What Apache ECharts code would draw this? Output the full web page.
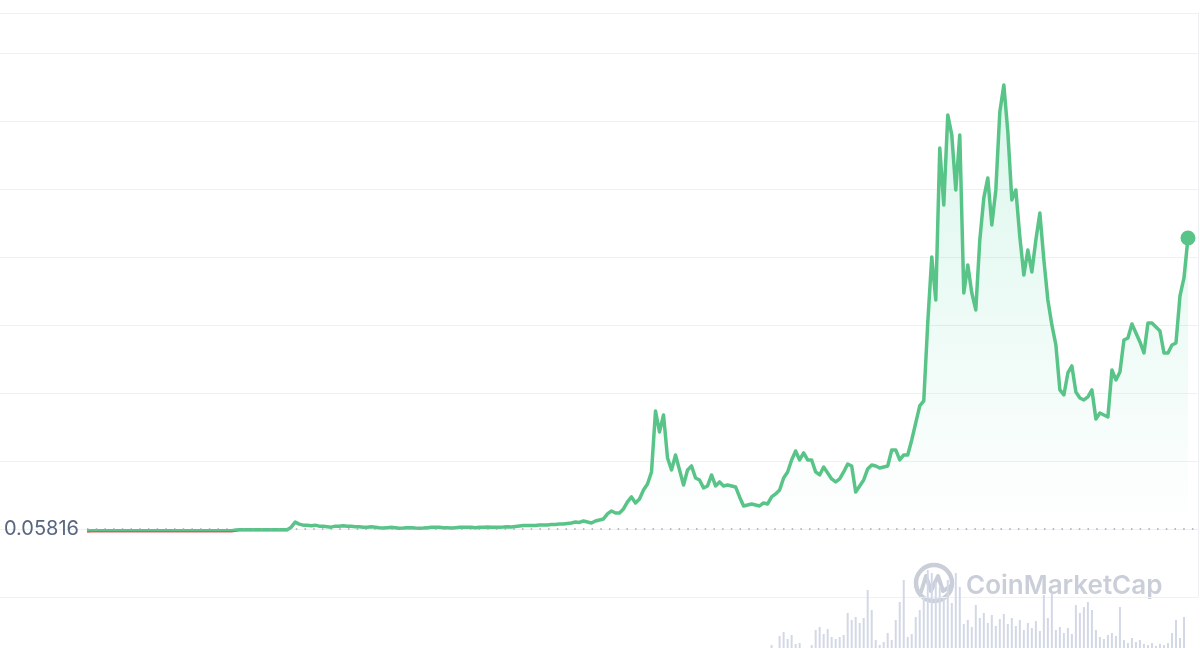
<!DOCTYPE html>
<html>
<head>
<meta charset="utf-8">
<style>
html,body{margin:0;padding:0;background:#fff;}
#chart{width:1200px;height:648px;}
</style>
<script src="https://cdn.jsdelivr.net/npm/echarts@6/dist/echarts.min.js"></script>
</head>
<body>
<div id="chart"></div>
<script>
// Price (one point per period)
const prices = [
  0.05816, 0.0585, 0.0585, 0.0585, 0.0585, 0.0585, 0.0585, 0.0585, 0.0585, 0.0585, 0.0585, 0.0585,
  0.0585, 0.0585, 0.0585, 0.0585, 0.0585, 0.0585, 0.0585, 0.0585, 0.0585, 0.0585, 0.0585, 0.0585,
  0.0585, 0.0585, 0.0585, 0.0585, 0.0585, 0.0585, 0.0585, 0.0585, 0.0585, 0.0585, 0.0585, 0.0585, 0.0585,
  0.059, 0.0595, 0.0595, 0.0595, 0.0595, 0.0595, 0.0595, 0.0595, 0.0595, 0.0595, 0.0595, 0.0595, 0.0595, 0.0595,
  0.062, 0.067, 0.065, 0.064, 0.064, 0.0635, 0.064, 0.063, 0.063, 0.0625, 0.062, 0.063, 0.063, 0.0635, 0.063, 0.063,
  0.0625, 0.0625, 0.062, 0.062, 0.0625, 0.062,
  0.0615, 0.0612, 0.0615, 0.0618, 0.0615, 0.061, 0.0612, 0.0615, 0.0615, 0.0612, 0.061, 0.0612, 0.0615,
  0.0618, 0.062, 0.0618, 0.0615, 0.0615, 0.0612, 0.0615, 0.0618, 0.0618, 0.062, 0.0618, 0.0615, 0.0618,
  0.062, 0.0622, 0.062, 0.0618, 0.062, 0.0622, 0.0625,
  0.0622, 0.0627, 0.0632, 0.0637, 0.0637, 0.0637, 0.0637, 0.0642, 0.0642, 0.0642, 0.0647, 0.0647,
  0.0652, 0.0652, 0.0657, 0.0662, 0.0672, 0.0667, 0.0682, 0.0672, 0.0662, 0.0682, 0.0692, 0.0702,
  0.0752, 0.0782, 0.0762, 0.0762, 0.0802, 0.0872, 0.0922, 0.0862, 0.0902, 0.0992, 0.1052, 0.1172,
  0.1782, 0.1572, 0.1742, 0.1312, 0.1192, 0.1342, 0.1192, 0.1042, 0.1192, 0.1232, 0.1112, 0.1092,
  0.1012, 0.1032, 0.1142, 0.1032, 0.1072, 0.1032, 0.1042, 0.1032, 0.1022, 0.0922, 0.0832, 0.0842,
  0.0852, 0.0842, 0.0832, 0.0862, 0.0852, 0.0922, 0.0952, 0.0992, 0.1112, 0.1172, 0.1292, 0.1382,
  0.1292, 0.1362, 0.1292, 0.1292, 0.1172, 0.1142, 0.1222, 0.1162, 0.1102, 0.1072, 0.1102, 0.1172,
  0.1252, 0.1232, 0.0972, 0.1032, 0.1092, 0.1202, 0.1242, 0.1232, 0.1212, 0.1222, 0.1232, 0.1392,
  0.1392, 0.1292, 0.1342, 0.1342, 0.1492, 0.1662, 0.1832, 0.1882, 0.2662, 0.3322, 0.2892, 0.4412,
  0.3842, 0.4742, 0.4542, 0.3992, 0.4542, 0.2962, 0.3242, 0.2962, 0.2792, 0.3492, 0.3912, 0.4112,
  0.3642, 0.3992, 0.4772, 0.5042, 0.4572, 0.3892, 0.3992, 0.3522, 0.3142, 0.3392, 0.3172, 0.3492,
  0.3762, 0.3292, 0.2892, 0.2642, 0.2442, 0.1992, 0.1942, 0.2162, 0.2232, 0.1972, 0.1912, 0.1892,
  0.1922, 0.1992, 0.1702, 0.1762, 0.1742, 0.1722, 0.2192, 0.2092, 0.2172, 0.2492, 0.2512, 0.2652,
  0.2562, 0.2472, 0.2362, 0.2662, 0.2662, 0.2622, 0.2582, 0.2362, 0.2362, 0.2442, 0.2462, 0.2932,
  0.3112, 0.3512
];

// Volume per period (arbitrary units) at the bottom
const volumes = [
  0,0,0,0,0,0,0,0,0,0,0,0,0,0,0,0,0,0,0,0,
  0,0,0,0,0,0,0,0,0,0,0,0,0,0,0,0,0,0,0,0,
  0,0,0,0,0,0,0,0,0,0,0,0,0,0,0,0,0,0,0,0,
  0,0,0,0,0,0,0,0,0,0,0,0,0,0,0,0,0,0,0,0,
  0,0,0,0,0,0,0,0,0,0,0,0,0,0,0,0,0,0,0,0,
  0,0,0,0,0,0,0,0,0,0,0,0,0,0,0,0,0,0,0,0,
  0,0,0,0,0,0,0,0,0,0,0,0,0,0,0,0,0,0,0,0,
  0,0,0,0,0,0,0,0,0,0,0,0,0,0,0,0,0,0,0,0,
  0,0,0,0,0,0,0,0,0,0,0,
  3, 0, 12, 16, 9, 13, 4, 5, 0, 0, 3, 18, 21, 14, 19, 11, 9, 11, 13,
  35, 28, 31, 25, 30, 58, 38, 8, 3, 6, 15, 8, 28, 46, 68, 11, 14, 31, 38,
  52, 78, 75, 66, 61, 50, 68, 45, 75, 61, 24, 28, 21, 43, 30, 35, 25, 33, 22,
  29, 34, 24, 30, 22, 28, 18, 25, 20, 27, 17, 53, 30, 55, 18, 21, 15, 20, 14,
  43, 35, 41, 46, 38, 18, 11, 9, 13, 15, 12, 41, 8, 5, 10, 6, 8, 4, 3,
  5, 2, 4, 3, 5, 15, 28, 10, 31
];

const startLabel = String(prices[0]);
const lastIndex = prices.length - 1;
const xMax = lastIndex + 3;

const GREEN = '#58c488';
const RED = '#de5b5b';

const chart = echarts.init(document.getElementById('chart'), null, {renderer: 'canvas'});

const option = {
  animation: false,
  backgroundColor: '#ffffff',
  grid: [
    {left: 0, right: 2, top: 13, bottom: 51},
    {left: 87, right: 0, top: 13, bottom: 51},
    {left: 87, right: 0, top: 558, bottom: 0}
  ],
  xAxis: [
    {gridIndex: 0, type: 'value', min: 0, max: 1, show: false},
    {gridIndex: 1, type: 'value', min: 0, max: xMax, show: false},
    {gridIndex: 2, type: 'value', min: 0, max: xMax, show: false}
  ],
  yAxis: [
    {gridIndex: 0, type: 'value', min: 0, max: 584, interval: 68, position: 'right',
     axisLabel: {show: false}, axisTick: {show: false},
     axisLine: {show: true, onZero: false, lineStyle: {color: '#eef0f3', width: 1}},
     splitLine: {show: true, lineStyle: {color: '#eff1f3', width: 1.2}}},
    {gridIndex: 1, type: 'value', min: -0.00784, max: 0.57616, show: false, splitLine: {show: false}},
    {gridIndex: 2, type: 'value', min: 0, max: 90, show: false, splitLine: {show: false}}
  ],
  visualMap: [{
    type: 'piecewise', show: false, seriesIndex: 0, dimension: 1,
    pieces: [
      {gte: -1, lt: prices[0], color: RED},
      {gte: prices[0], lte: 10, color: GREEN}
    ]
  }],
  graphic: [
    {type: 'circle', z: 0, shape: {cx: 934, cy: 583, r: 18},
     style: {fill: 'none', stroke: '#c9ced9', lineWidth: 4.5}},
    {type: 'polyline', z: 0, shape: {points: [[921, 592], [926, 576], [931, 591], [938, 576], [943, 591], [951, 586]]},
     style: {fill: 'none', stroke: '#c9ced9', lineWidth: 4, lineJoin: 'round', lineCap: 'round'}},
    {type: 'text', z: 0, style: {text: 'CoinMarketCap', x: 966, y: 599, textVerticalAlign: 'bottom',
      fill: '#c9ced9', font: '600 26px Inter, "Open Sans", sans-serif'}}
  ],
  series: [
    {
      type: 'line', xAxisIndex: 1, yAxisIndex: 1, z: 3,
      data: prices.map((p, i) => [i, p]),
      showSymbol: false, symbol: 'none',
      lineStyle: {width: 3.5, join: 'round'},
      areaStyle: {
        origin: prices[0],
        color: new echarts.graphic.LinearGradient(0, 83, 0, 531, [
          {offset: 0, color: 'rgba(22,199,132,0.22)'},
          {offset: 0.6, color: 'rgba(22,199,132,0.09)'},
          {offset: 1, color: 'rgba(22,199,132,0.0)'}
        ], true)
      },
      markLine: {
        silent: true, symbol: ['none', 'none'], animation: false,
        data: [{yAxis: prices[0]}],
        lineStyle: {color: '#9ea7b8', type: [1.5, 7.2], width: 1.5},
        label: {show: true, position: 'start', distance: 8, formatter: startLabel,
          color: '#58667e', fontSize: 20, fontFamily: 'Inter, "Open Sans", sans-serif'}
      },
      markPoint: {
        silent: true, symbol: 'circle', symbolSize: 15,
        itemStyle: {color: GREEN},
        label: {show: false},
        data: [{coord: [lastIndex, prices[lastIndex]]}]
      }
    },
    {
      type: 'bar', xAxisIndex: 2, yAxisIndex: 2, z: 1,
      data: volumes.map((v, i) => [i, v]),
      barWidth: 2,
      itemStyle: {color: '#d3d8e6'}
    }
  ]
};
chart.setOption(option);
</script>
</body>
</html>
